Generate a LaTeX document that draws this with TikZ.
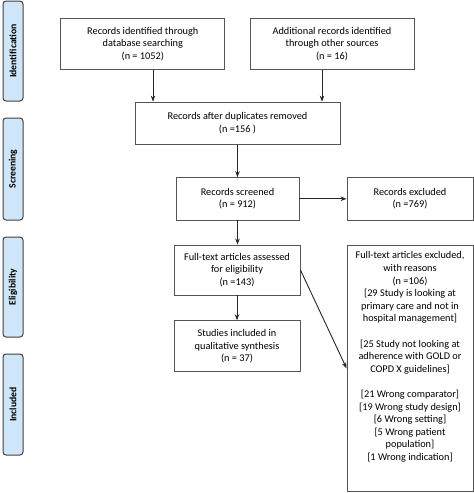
\documentclass[tikz,border=0pt]{standalone}
\usepackage{fontspec}
\setmainfont{Carlito}
\usetikzlibrary{arrows.meta}
\definecolor{sidefill}{HTML}{CFE6F8}
\definecolor{boxline}{HTML}{555555}
\tikzset{
  x=1pt, y=-1pt,
  flowbox/.style={draw=boxline, line width=0.9pt, fill=white, align=center, inner sep=2pt,
    font=\fontsize{10.3}{12.5}\selectfont},
  sidebox/.style={draw=black!75, line width=1pt, fill=sidefill, rounded corners=3pt,
    minimum width=20pt, inner sep=0pt},
  sidelabel/.style={rotate=90, font=\bfseries\fontsize{9.7}{11}\selectfont},
  flowarrow/.style={-{Stealth[length=6pt,width=4.5pt]}, line width=0.9pt, draw=black!85}
}
\begin{document}
\begin{tikzpicture}
\useasboundingbox (0,0) rectangle (474,493);
% side boxes
\node[sidebox, minimum height=100pt] (s1) at (13,51) {};
\node[sidelabel] (s1t) at (s1.center) {Identification};
\node[sidebox, minimum height=102pt] (s2) at (13,169) {};
\node[sidelabel] (s2t) at (s2.center) {Screening};
\node[sidebox, minimum height=100pt] (s3) at (13,287) {};
\node[sidelabel] (s3t) at (s3.center) {Eligibility};
\node[sidebox, minimum height=101pt] (s4) at (13,404.5) {};
\node[sidelabel] (s4t) at (s4.center) {Included};
% flow boxes
\node[flowbox, minimum width=164pt, minimum height=50.7pt] (b1) at (142.8,43.7)
  {Records identified through\\database searching\\(n = 1052)};
\node[flowbox, minimum width=164pt, minimum height=50.7pt] (b2) at (332,43.7)
  {Additional records identified\\through other sources\\(n = 16)};
\node[flowbox, minimum width=205pt, minimum height=42.3pt] (b3) at (237.5,123.2)
  {Records after duplicates removed\\(n =156 )};
\node[flowbox, minimum width=123pt, minimum height=42.3pt] (b4) at (237.5,198.8)
  {Records screened\\(n = 912)};
\node[flowbox, minimum width=126pt, minimum height=42.3pt] (b5) at (410,198.8)
  {Records excluded\\(n =769)};
\node[flowbox, minimum width=126pt, minimum height=50pt] (b6) at (237,270)
  {Full-text articles assessed\\for eligibility\\(n =143)};
\node[flowbox, minimum width=126pt, minimum height=51pt] (b7) at (237,346.2)
  {Studies included in\\qualitative synthesis\\(n = 37)};
\node[flowbox, minimum width=126pt, minimum height=246.7pt] (b8) at (410,368.3) {};
\node[align=center, anchor=north, inner sep=0pt, font=\fontsize{10.3}{12.6}\selectfont] (b8t)
  at ([yshift=-7pt]b8.north)
  {Full-text articles excluded,\\with reasons\\(n =106)\\{[}29 Study is looking at\\primary care and not in\\hospital management{]}\\\mbox{}\\
   {[}25 Study not looking at\\adherence with GOLD or\\COPD X guidelines{]}\\\mbox{}\\
   {[}21 Wrong comparator{]}\\{[}19 Wrong study design{]}\\{[}6 Wrong setting{]}\\{[}5 Wrong patient\\population{]}\\{[}1 Wrong indication{]}};
% arrows
\draw[flowarrow] ([xshift=10.2pt]b1.south) -- ([xshift=10.2pt]b1.south |- b3.north);
\draw[flowarrow] ([xshift=-10pt]b2.south) -- ([xshift=-10pt]b2.south |- b3.north);
\draw[flowarrow] (b3.south) -- (b4.north);
\draw[flowarrow] (b4.east) -- (b5.west);
\draw[flowarrow] (b4.south) -- (b6.north -| b4.south);
\draw[flowarrow] (b6.south) -- (b7.north);
\draw[flowarrow] (b6.east) -- (b8.west);
\end{tikzpicture}
\end{document}
